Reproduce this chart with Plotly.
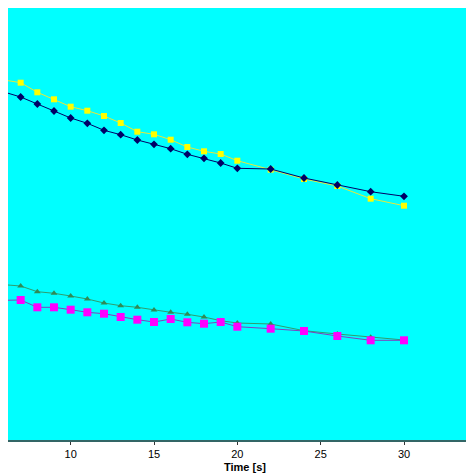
import plotly.graph_objects as go

time = [6,7,8,9,10,11,12,13,14,15,16,17,18,19,20,22,24,26,28,30]
yellow = [72,74.7,84.3,91.3,98.7,102.7,108,115,123.7,126.3,131.7,139,143.3,146,152.7,161.7,171,178,190.7,197.7]
navy = [84,89,96,103,110,115.3,122.3,126.7,132,136.3,140.7,146.3,150.3,155,160.3,161,170,177,183.7,188.3]
green = [276.7,278,283.7,285.3,288,291,295,297.7,299.3,302,304.3,306.3,309,312.7,315,316,322.7,326,329.3,332]
magenta = [292.3,292,299.3,299.3,301.7,304.3,305.7,309,311.7,314,311,314.3,315.7,314,318.7,320.7,323,328,332.3,332.3]
H = 432

def conv(v):
    return [H - p for p in v]

fig = go.Figure()
fig.add_trace(go.Scatter(x=time, y=conv(yellow), mode="lines+markers",
    line=dict(color="#e8e838", width=1), marker=dict(symbol="square", size=6, color="#ffff00")))
fig.add_trace(go.Scatter(x=time, y=conv(navy), mode="lines+markers",
    line=dict(color="#000066", width=1), marker=dict(symbol="diamond", size=6, color="#000066")))
fig.add_trace(go.Scatter(x=time, y=conv(green), mode="lines+markers",
    line=dict(color="#2e9e6e", width=1), marker=dict(symbol="triangle-up", size=6, color="#2e8b57")))
fig.add_trace(go.Scatter(x=time, y=conv(magenta), mode="lines+markers",
    line=dict(color="#8040c0", width=1), marker=dict(symbol="square", size=8, color="#ff00ff")))

fig.update_layout(
    width=474, height=474, showlegend=False,
    margin=dict(l=0, r=0, t=0, b=42, pad=0, autoexpand=False),
    paper_bgcolor="white", plot_bgcolor="#00ffff",
    font=dict(family="Liberation Sans, Arial", size=11, color="black"),
    xaxis=dict(range=[6.24, 34.68], tickvals=[10,15,20,25,30], showgrid=False, zeroline=False,
               showline=True, linecolor="#336666", linewidth=2, ticks="outside", ticklen=3,
               tickcolor="#333333", automargin=False,
               title=dict(text="<b>Time [s]</b>", font=dict(size=11), standoff=4)),
    yaxis=dict(range=[0, H], visible=False, automargin=False),
)
fig.write_html("out.html")
